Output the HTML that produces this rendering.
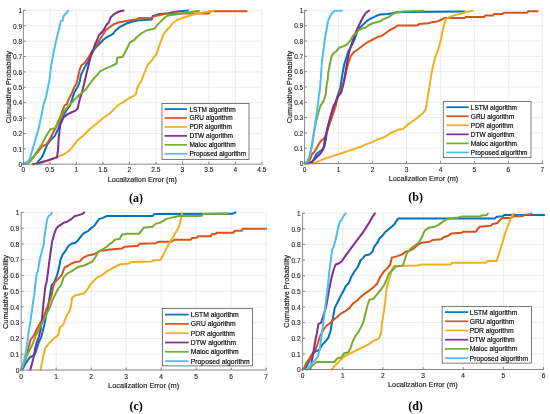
<!DOCTYPE html><html><head><meta charset="utf-8"><style>
html,body{margin:0;padding:0;background:#fff;}
svg{display:block;filter:blur(0.35px);}
text{font-family:"Liberation Sans",sans-serif;}
.t{font-size:6.6px;fill:#1e1e1e;stroke:#1e1e1e;stroke-width:0.12px;}
.l{font-size:7.4px;fill:#1e1e1e;stroke:#1e1e1e;stroke-width:0.18px;}
.g{font-size:7.2px;fill:#000;stroke:#000;stroke-width:0.15px;}
.cap{font-family:"Liberation Serif",serif;font-size:12px;font-weight:bold;fill:#000;}
</style></head><body>
<svg width="550" height="414" viewBox="0 0 550 414">
<rect width="550" height="414" fill="#fff"/>
<g stroke="#e8e8e8" stroke-width="0.8"><line x1="49.90" y1="10.40" x2="49.90" y2="164.20"/><line x1="76.40" y1="10.40" x2="76.40" y2="164.20"/><line x1="102.90" y1="10.40" x2="102.90" y2="164.20"/><line x1="129.40" y1="10.40" x2="129.40" y2="164.20"/><line x1="155.90" y1="10.40" x2="155.90" y2="164.20"/><line x1="182.40" y1="10.40" x2="182.40" y2="164.20"/><line x1="208.90" y1="10.40" x2="208.90" y2="164.20"/><line x1="235.40" y1="10.40" x2="235.40" y2="164.20"/><line x1="261.90" y1="10.40" x2="261.90" y2="164.20"/><line x1="23.40" y1="148.82" x2="261.90" y2="148.82"/><line x1="23.40" y1="133.44" x2="261.90" y2="133.44"/><line x1="23.40" y1="118.06" x2="261.90" y2="118.06"/><line x1="23.40" y1="102.68" x2="261.90" y2="102.68"/><line x1="23.40" y1="87.30" x2="261.90" y2="87.30"/><line x1="23.40" y1="71.92" x2="261.90" y2="71.92"/><line x1="23.40" y1="56.54" x2="261.90" y2="56.54"/><line x1="23.40" y1="41.16" x2="261.90" y2="41.16"/><line x1="23.40" y1="25.78" x2="261.90" y2="25.78"/><line x1="23.40" y1="10.40" x2="261.90" y2="10.40"/></g>
<polyline points="33.5,164.2 37.0,163.5 38.5,160.9 40.7,158.7 42.8,155.4 45.0,150.0 47.2,144.6 50.4,140.2 54.8,135.9 58.0,129.3 60.2,122.8 63.5,115.2 66.7,109.8 70.0,105.4 72.2,98.9 74.3,92.4 77.6,87.0 79.8,81.5 80.9,75.0 82.7,71.4 85.5,65.9 88.2,61.4 90.9,55.9 93.6,50.5 96.4,46.8 100.0,43.2 103.6,39.5 107.3,36.8 112.7,34.1 115.5,30.5 120.0,26.8 123.6,25.0 127.3,23.2 131.8,21.7 137.3,20.5 151.8,19.5 152.7,15.9 159.0,14.1 168.2,13.2 173.6,11.9 180.0,11.2 188.0,10.6" fill="none" stroke="#0072BD" stroke-width="2.0" stroke-linejoin="round" stroke-linecap="round"/>
<polyline points="23.4,164.2 26.0,162.8 28.7,161.0 32.0,158.5 35.2,155.0 38.5,151.1 41.7,146.7 46.1,144.6 49.3,140.2 52.6,133.7 55.9,127.2 58.0,121.7 60.2,117.4 62.4,110.9 64.6,105.4 66.7,104.3 68.9,98.9 72.2,92.4 74.3,87.0 76.5,83.7 77.5,79.0 78.2,75.9 80.0,68.6 81.8,65.0 84.5,63.2 88.2,57.7 90.9,53.2 93.6,49.5 96.4,45.9 98.2,42.3 100.0,39.5 102.7,35.0 105.5,30.5 110.0,26.8 114.0,24.1 119.1,22.3 126.4,21.0 136.4,19.2 139.0,18.1 151.8,17.7 155.5,15.9 164.5,14.1 170.0,13.4 209.0,13.4 209.4,11.2 246.5,11.2" fill="none" stroke="#D95319" stroke-width="2.0" stroke-linejoin="round" stroke-linecap="round"/>
<polyline points="33.0,164.2 37.4,163.7 43.9,162.0 50.4,159.8 54.8,157.6 61.3,155.4 65.7,153.3 70.0,150.0 74.3,144.6 77.6,140.2 83.0,135.9 89.6,129.3 96.1,123.9 102.6,118.5 106.0,116.0 110.0,113.3 114.3,108.9 118.7,104.6 123.0,102.4 126.3,100.2 129.6,98.0 133.9,95.9 136.1,93.7 137.2,88.3 139.3,83.9 141.5,80.7 142.6,77.4 144.8,72.0 146.5,67.6 148.0,64.3 151.3,61.1 153.6,57.7 156.4,54.1 158.2,48.6 160.9,41.4 163.6,34.1 166.4,30.5 170.0,26.8 172.7,23.2 176.4,20.5 180.9,18.6 186.4,16.8 191.8,15.0 199.0,13.2 204.5,12.3 210.0,11.4 214.0,10.7" fill="none" stroke="#EDB120" stroke-width="2.0" stroke-linejoin="round" stroke-linecap="round"/>
<polyline points="33.0,164.2 37.4,163.5 41.7,162.0 46.1,160.9 52.6,158.7 57.0,157.6 58.0,150.0 58.7,138.0 60.2,125.0 63.5,117.4 67.8,114.1 72.2,112.0 75.4,110.9 77.6,108.7 79.8,98.9 82.0,92.4 84.1,83.7 86.4,74.0 88.2,66.8 90.0,59.5 91.8,52.3 93.6,48.6 95.5,43.2 97.3,39.5 99.0,35.0 101.8,32.3 104.5,28.6 106.4,25.0 109.0,22.3 110.5,17.5 114.0,14.2 119.0,11.5 123.6,10.6" fill="none" stroke="#7E2F8E" stroke-width="2.0" stroke-linejoin="round" stroke-linecap="round"/>
<polyline points="23.4,164.2 26.5,163.5 29.8,162.0 33.0,157.6 37.4,151.1 41.7,144.6 45.0,138.0 48.3,132.6 50.4,129.3 54.8,128.3 59.1,121.7 63.5,112.0 67.8,106.5 72.2,102.2 76.5,97.8 80.9,93.5 85.2,90.2 90.7,82.6 93.9,78.3 97.2,75.0 100.0,71.4 105.5,68.6 110.9,66.3 113.6,65.0 116.5,63.5 117.3,57.7 122.7,56.8 124.5,53.2 127.3,47.7 130.0,42.3 133.6,40.5 137.3,36.8 141.8,33.2 146.4,30.5 154.5,28.6 157.3,25.0 160.9,21.4 164.5,17.7 168.2,15.5 175.5,14.5 182.7,13.2 190.0,12.3 199.0,10.8" fill="none" stroke="#77AC30" stroke-width="2.0" stroke-linejoin="round" stroke-linecap="round"/>
<polyline points="23.4,164.2 27.6,162.0 29.8,158.7 32.0,151.1 35.2,140.2 38.5,129.3 41.7,114.1 43.9,103.3 46.1,96.7 48.3,85.9 49.6,79.0 51.3,65.0 53.6,52.3 56.0,41.4 58.2,32.3 59.6,26.8 60.9,21.0 62.7,20.5 63.6,15.9 65.5,14.1 68.2,10.8" fill="none" stroke="#4DBEEE" stroke-width="2.0" stroke-linejoin="round" stroke-linecap="round"/>
<g stroke="#7a7a7a" stroke-width="0.9"><line x1="23.40" y1="9.90" x2="23.40" y2="164.20"/><line x1="23.40" y1="164.20" x2="262.40" y2="164.20"/><line x1="23.40" y1="164.20" x2="23.40" y2="161.80"/><line x1="49.90" y1="164.20" x2="49.90" y2="161.80"/><line x1="76.40" y1="164.20" x2="76.40" y2="161.80"/><line x1="102.90" y1="164.20" x2="102.90" y2="161.80"/><line x1="129.40" y1="164.20" x2="129.40" y2="161.80"/><line x1="155.90" y1="164.20" x2="155.90" y2="161.80"/><line x1="182.40" y1="164.20" x2="182.40" y2="161.80"/><line x1="208.90" y1="164.20" x2="208.90" y2="161.80"/><line x1="235.40" y1="164.20" x2="235.40" y2="161.80"/><line x1="261.90" y1="164.20" x2="261.90" y2="161.80"/><line x1="23.40" y1="164.20" x2="25.80" y2="164.20"/><line x1="23.40" y1="148.82" x2="25.80" y2="148.82"/><line x1="23.40" y1="133.44" x2="25.80" y2="133.44"/><line x1="23.40" y1="118.06" x2="25.80" y2="118.06"/><line x1="23.40" y1="102.68" x2="25.80" y2="102.68"/><line x1="23.40" y1="87.30" x2="25.80" y2="87.30"/><line x1="23.40" y1="71.92" x2="25.80" y2="71.92"/><line x1="23.40" y1="56.54" x2="25.80" y2="56.54"/><line x1="23.40" y1="41.16" x2="25.80" y2="41.16"/><line x1="23.40" y1="25.78" x2="25.80" y2="25.78"/><line x1="23.40" y1="10.40" x2="25.80" y2="10.40"/></g>
<g class="t"><text x="23.40" y="172.20" text-anchor="middle">0</text><text x="49.90" y="172.20" text-anchor="middle">0.5</text><text x="76.40" y="172.20" text-anchor="middle">1</text><text x="102.90" y="172.20" text-anchor="middle">1.5</text><text x="129.40" y="172.20" text-anchor="middle">2</text><text x="155.90" y="172.20" text-anchor="middle">2.5</text><text x="182.40" y="172.20" text-anchor="middle">3</text><text x="208.90" y="172.20" text-anchor="middle">3.5</text><text x="235.40" y="172.20" text-anchor="middle">4</text><text x="261.90" y="172.20" text-anchor="middle">4.5</text><text x="22.10" y="166.95" text-anchor="end">0</text><text x="22.10" y="151.57" text-anchor="end">0.1</text><text x="22.10" y="136.19" text-anchor="end">0.2</text><text x="22.10" y="120.81" text-anchor="end">0.3</text><text x="22.10" y="105.43" text-anchor="end">0.4</text><text x="22.10" y="90.05" text-anchor="end">0.5</text><text x="22.10" y="74.67" text-anchor="end">0.6</text><text x="22.10" y="59.29" text-anchor="end">0.7</text><text x="22.10" y="43.91" text-anchor="end">0.8</text><text x="22.10" y="28.53" text-anchor="end">0.9</text><text x="22.10" y="13.15" text-anchor="end">1</text></g>
<text class="l" style="font-size:7.25px" x="142.30" y="181.65" text-anchor="middle">Localization Error (m)</text>
<text class="l" style="font-size:7.25px" transform="translate(11.40,87.30) rotate(-90)" text-anchor="middle">Cumulative Probability</text>
<rect x="162.00" y="103.40" width="87.00" height="56.00" fill="#fff" stroke="#262626" stroke-width="0.6"/>
<line x1="164.60" y1="109.10" x2="187.00" y2="109.10" stroke="#0072BD" stroke-width="1.7"/>
<text class="g" style="font-size:6.55px" x="189.40" y="111.50">LSTM algorithm</text>
<line x1="164.60" y1="118.03" x2="187.00" y2="118.03" stroke="#D95319" stroke-width="1.7"/>
<text class="g" style="font-size:6.55px" x="189.40" y="120.43">GRU algorithm</text>
<line x1="164.60" y1="126.96" x2="187.00" y2="126.96" stroke="#EDB120" stroke-width="1.7"/>
<text class="g" style="font-size:6.55px" x="189.40" y="129.36">PDR algorithm</text>
<line x1="164.60" y1="135.89" x2="187.00" y2="135.89" stroke="#7E2F8E" stroke-width="1.7"/>
<text class="g" style="font-size:6.55px" x="189.40" y="138.29">DTW algorithm</text>
<line x1="164.60" y1="144.82" x2="187.00" y2="144.82" stroke="#77AC30" stroke-width="1.7"/>
<text class="g" style="font-size:6.55px" x="189.40" y="147.22">Maloc algorithm</text>
<line x1="164.60" y1="153.75" x2="187.00" y2="153.75" stroke="#4DBEEE" stroke-width="1.7"/>
<text class="g" style="font-size:6.55px" x="189.40" y="156.15">Proposed algorithm</text>
<text class="cap" x="136.00" y="201.90" text-anchor="middle">(a)</text>
<g stroke="#e8e8e8" stroke-width="0.8"><line x1="338.57" y1="10.40" x2="338.57" y2="163.50"/><line x1="372.54" y1="10.40" x2="372.54" y2="163.50"/><line x1="406.51" y1="10.40" x2="406.51" y2="163.50"/><line x1="440.48" y1="10.40" x2="440.48" y2="163.50"/><line x1="474.45" y1="10.40" x2="474.45" y2="163.50"/><line x1="508.42" y1="10.40" x2="508.42" y2="163.50"/><line x1="542.39" y1="10.40" x2="542.39" y2="163.50"/><line x1="304.60" y1="148.19" x2="542.39" y2="148.19"/><line x1="304.60" y1="132.88" x2="542.39" y2="132.88"/><line x1="304.60" y1="117.57" x2="542.39" y2="117.57"/><line x1="304.60" y1="102.26" x2="542.39" y2="102.26"/><line x1="304.60" y1="86.95" x2="542.39" y2="86.95"/><line x1="304.60" y1="71.64" x2="542.39" y2="71.64"/><line x1="304.60" y1="56.33" x2="542.39" y2="56.33"/><line x1="304.60" y1="41.02" x2="542.39" y2="41.02"/><line x1="304.60" y1="25.71" x2="542.39" y2="25.71"/><line x1="304.60" y1="10.40" x2="542.39" y2="10.40"/></g>
<polyline points="306.0,163.5 308.7,163.0 312.0,162.0 314.1,158.7 316.3,154.3 318.5,152.2 321.7,150.0 324.3,146.7 326.1,138.0 327.2,129.3 329.3,121.7 331.5,114.1 333.7,107.6 335.9,101.1 338.0,94.6 340.2,88.0 341.5,80.0 342.7,72.3 344.5,63.2 346.4,57.7 348.2,51.4 350.0,48.6 352.7,43.2 354.5,39.5 356.4,34.1 358.2,28.6 360.9,26.8 363.6,24.1 366.4,21.4 369.1,19.5 372.7,17.7 376.4,15.9 380.0,14.5 387.3,14.1 392.7,13.2 396.4,12.3 408.2,11.9 464.5,11.4" fill="none" stroke="#0072BD" stroke-width="2.0" stroke-linejoin="round" stroke-linecap="round"/>
<polyline points="305.5,163.5 307.6,163.0 309.8,159.8 312.0,154.3 314.1,152.2 316.3,148.9 318.5,144.6 320.7,141.3 322.8,139.1 325.0,138.0 327.2,131.5 329.3,125.0 331.5,118.5 333.7,112.0 335.9,105.4 337.0,98.9 339.1,94.6 342.4,85.9 344.5,79.9 346.4,70.5 348.2,63.2 350.9,55.9 353.6,52.3 356.4,50.5 360.0,47.7 363.6,45.0 367.3,42.3 370.9,40.5 374.5,38.6 378.2,36.8 381.8,35.9 385.5,33.2 389.1,30.5 392.7,28.6 396.4,26.5 397.5,25.4 417.3,25.4 419.1,24.1 428.2,23.2 431.8,22.3 437.3,21.4 441.8,19.5 444.5,18.1 464.5,18.1 466.0,16.9 484.5,16.9 485.0,15.6 493.3,15.6 494.0,13.9 502.7,13.9 503.5,12.8 527.5,12.8 528.0,11.3 537.6,11.3" fill="none" stroke="#D95319" stroke-width="2.0" stroke-linejoin="round" stroke-linecap="round"/>
<polyline points="313.0,163.5 317.4,162.0 321.7,159.8 328.3,157.6 334.8,155.4 341.3,153.3 347.8,151.1 354.3,148.9 360.9,146.7 365.2,144.6 371.7,142.4 378.3,139.1 384.8,137.0 390.0,133.5 394.3,131.3 398.7,129.6 403.0,129.1 405.2,127.0 408.5,124.1 411.7,122.0 416.1,118.7 420.4,115.4 423.7,112.2 425.9,108.9 427.0,101.3 428.0,94.8 429.6,86.1 430.9,77.4 432.4,68.7 434.6,60.0 435.1,57.7 437.3,52.3 439.1,46.8 440.9,39.5 442.7,30.5 444.5,23.2 446.4,18.6 450.0,16.8 455.5,15.0 462.7,13.2 466.4,11.9 472.7,10.8" fill="none" stroke="#EDB120" stroke-width="2.0" stroke-linejoin="round" stroke-linecap="round"/>
<polyline points="308.0,163.5 310.9,163.0 314.1,159.8 317.4,156.5 320.7,153.3 323.5,148.9 325.0,138.0 327.2,129.3 329.3,120.7 331.5,113.0 333.7,105.4 335.9,102.2 338.0,96.7 341.3,92.4 343.5,83.7 345.5,72.0 347.3,61.4 349.1,52.3 351.8,43.2 354.5,35.9 357.3,28.6 360.0,23.2 362.7,17.7 365.5,13.2 369.1,10.5" fill="none" stroke="#7E2F8E" stroke-width="2.0" stroke-linejoin="round" stroke-linecap="round"/>
<polyline points="304.6,163.5 307.6,162.0 309.8,155.4 312.0,144.6 314.1,131.5 316.3,120.7 318.5,112.0 320.7,105.4 323.5,101.1 325.7,94.6 326.5,85.9 327.8,79.3 328.2,73.2 330.0,63.2 331.8,55.9 333.6,53.2 336.4,51.4 339.1,47.7 342.7,46.5 346.4,45.0 348.2,43.2 350.9,39.5 353.6,35.0 356.4,33.2 358.2,30.5 361.8,28.6 365.5,27.7 369.1,25.0 372.7,23.2 376.4,22.3 380.0,21.4 383.6,19.2 389.1,16.8 392.7,14.1 397.3,12.3 404.5,11.4 423.6,10.8" fill="none" stroke="#77AC30" stroke-width="2.0" stroke-linejoin="round" stroke-linecap="round"/>
<polyline points="304.6,163.5 307.6,160.9 309.8,155.4 312.0,146.7 313.5,135.9 315.2,122.8 317.0,112.0 318.5,98.9 320.0,88.0 320.9,77.0 321.8,63.2 322.7,55.9 323.6,48.6 324.5,41.4 325.5,35.9 326.4,30.5 327.3,25.0 328.2,20.5 330.0,16.8 331.8,13.2 334.5,10.8 341.8,10.8" fill="none" stroke="#4DBEEE" stroke-width="2.0" stroke-linejoin="round" stroke-linecap="round"/>
<g stroke="#7a7a7a" stroke-width="0.9"><line x1="304.60" y1="9.90" x2="304.60" y2="163.50"/><line x1="304.60" y1="163.50" x2="542.89" y2="163.50"/><line x1="304.60" y1="163.50" x2="304.60" y2="161.10"/><line x1="338.57" y1="163.50" x2="338.57" y2="161.10"/><line x1="372.54" y1="163.50" x2="372.54" y2="161.10"/><line x1="406.51" y1="163.50" x2="406.51" y2="161.10"/><line x1="440.48" y1="163.50" x2="440.48" y2="161.10"/><line x1="474.45" y1="163.50" x2="474.45" y2="161.10"/><line x1="508.42" y1="163.50" x2="508.42" y2="161.10"/><line x1="542.39" y1="163.50" x2="542.39" y2="161.10"/><line x1="304.60" y1="163.50" x2="307.00" y2="163.50"/><line x1="304.60" y1="148.19" x2="307.00" y2="148.19"/><line x1="304.60" y1="132.88" x2="307.00" y2="132.88"/><line x1="304.60" y1="117.57" x2="307.00" y2="117.57"/><line x1="304.60" y1="102.26" x2="307.00" y2="102.26"/><line x1="304.60" y1="86.95" x2="307.00" y2="86.95"/><line x1="304.60" y1="71.64" x2="307.00" y2="71.64"/><line x1="304.60" y1="56.33" x2="307.00" y2="56.33"/><line x1="304.60" y1="41.02" x2="307.00" y2="41.02"/><line x1="304.60" y1="25.71" x2="307.00" y2="25.71"/><line x1="304.60" y1="10.40" x2="307.00" y2="10.40"/></g>
<g class="t"><text x="304.60" y="171.50" text-anchor="middle">0</text><text x="338.57" y="171.50" text-anchor="middle">1</text><text x="372.54" y="171.50" text-anchor="middle">2</text><text x="406.51" y="171.50" text-anchor="middle">3</text><text x="440.48" y="171.50" text-anchor="middle">4</text><text x="474.45" y="171.50" text-anchor="middle">5</text><text x="508.42" y="171.50" text-anchor="middle">6</text><text x="542.39" y="171.50" text-anchor="middle">7</text><text x="303.30" y="166.25" text-anchor="end">0</text><text x="303.30" y="150.94" text-anchor="end">0.1</text><text x="303.30" y="135.63" text-anchor="end">0.2</text><text x="303.30" y="120.32" text-anchor="end">0.3</text><text x="303.30" y="105.01" text-anchor="end">0.4</text><text x="303.30" y="89.70" text-anchor="end">0.5</text><text x="303.30" y="74.39" text-anchor="end">0.6</text><text x="303.30" y="59.08" text-anchor="end">0.7</text><text x="303.30" y="43.77" text-anchor="end">0.8</text><text x="303.30" y="28.46" text-anchor="end">0.9</text><text x="303.30" y="13.15" text-anchor="end">1</text></g>
<text class="l" style="font-size:7.28px" x="423.40" y="180.65" text-anchor="middle">Localization Error (m)</text>
<text class="l" style="font-size:7.28px" transform="translate(291.70,87.10) rotate(-90)" text-anchor="middle">Cumulative Probability</text>
<rect x="443.20" y="101.70" width="87.80" height="56.00" fill="#fff" stroke="#262626" stroke-width="0.6"/>
<line x1="446.30" y1="107.20" x2="468.70" y2="107.20" stroke="#0072BD" stroke-width="1.7"/>
<text class="g" style="font-size:6.55px" x="470.80" y="109.60">LSTM algorithm</text>
<line x1="446.30" y1="116.25" x2="468.70" y2="116.25" stroke="#D95319" stroke-width="1.7"/>
<text class="g" style="font-size:6.55px" x="470.80" y="118.65">GRU algorithm</text>
<line x1="446.30" y1="125.30" x2="468.70" y2="125.30" stroke="#EDB120" stroke-width="1.7"/>
<text class="g" style="font-size:6.55px" x="470.80" y="127.70">PDR algorithm</text>
<line x1="446.30" y1="134.35" x2="468.70" y2="134.35" stroke="#7E2F8E" stroke-width="1.7"/>
<text class="g" style="font-size:6.55px" x="470.80" y="136.75">DTW algorithm</text>
<line x1="446.30" y1="143.40" x2="468.70" y2="143.40" stroke="#77AC30" stroke-width="1.7"/>
<text class="g" style="font-size:6.55px" x="470.80" y="145.80">Maloc algorithm</text>
<line x1="446.30" y1="152.45" x2="468.70" y2="152.45" stroke="#4DBEEE" stroke-width="1.7"/>
<text class="g" style="font-size:6.55px" x="470.80" y="154.85">Proposed algorithm</text>
<text class="cap" x="415.60" y="201.30" text-anchor="middle">(b)</text>
<g stroke="#e8e8e8" stroke-width="0.8"><line x1="56.20" y1="212.40" x2="56.20" y2="370.00"/><line x1="91.20" y1="212.40" x2="91.20" y2="370.00"/><line x1="126.20" y1="212.40" x2="126.20" y2="370.00"/><line x1="161.20" y1="212.40" x2="161.20" y2="370.00"/><line x1="196.20" y1="212.40" x2="196.20" y2="370.00"/><line x1="231.20" y1="212.40" x2="231.20" y2="370.00"/><line x1="266.20" y1="212.40" x2="266.20" y2="370.00"/><line x1="21.20" y1="354.24" x2="266.20" y2="354.24"/><line x1="21.20" y1="338.48" x2="266.20" y2="338.48"/><line x1="21.20" y1="322.72" x2="266.20" y2="322.72"/><line x1="21.20" y1="306.96" x2="266.20" y2="306.96"/><line x1="21.20" y1="291.20" x2="266.20" y2="291.20"/><line x1="21.20" y1="275.44" x2="266.20" y2="275.44"/><line x1="21.20" y1="259.68" x2="266.20" y2="259.68"/><line x1="21.20" y1="243.92" x2="266.20" y2="243.92"/><line x1="21.20" y1="228.16" x2="266.20" y2="228.16"/><line x1="21.20" y1="212.40" x2="266.20" y2="212.40"/></g>
<polyline points="21.2,370.0 23.3,368.1 25.4,363.8 27.5,360.7 29.6,357.5 31.7,356.5 34.8,354.4 36.9,348.1 39.0,341.8 41.1,337.6 42.8,331.3 44.3,325.0 45.8,316.5 47.4,310.2 48.5,303.9 49.5,297.6 50.6,291.3 51.6,285.0 53.7,283.3 56.7,276.4 58.6,269.5 60.6,259.5 62.6,254.6 65.6,250.6 68.6,245.7 71.5,243.7 75.5,242.7 78.5,239.7 81.4,235.8 84.4,232.8 88.4,230.8 91.4,227.8 94.3,225.8 96.3,222.9 99.3,218.9 103.0,217.9 106.9,215.9 152.5,215.9 154.5,214.0 232.5,213.8 235.5,212.4" fill="none" stroke="#0072BD" stroke-width="2.0" stroke-linejoin="round" stroke-linecap="round"/>
<polyline points="21.2,370.0 22.2,369.1 24.3,362.8 26.4,356.5 28.5,348.1 30.6,339.7 33.8,335.5 36.9,329.2 39.0,325.0 43.2,318.6 45.3,312.3 48.5,303.9 51.6,295.5 53.2,287.0 54.7,282.3 57.7,279.4 61.6,275.4 64.6,267.5 68.6,265.5 71.5,263.5 75.5,261.9 79.5,261.5 83.4,257.6 87.4,255.6 93.3,254.6 97.3,252.6 101.3,250.6 104.0,250.6 109.9,249.6 121.8,248.6 124.8,246.7 137.7,245.7 139.7,243.7 155.5,243.3 158.5,241.7 171.4,241.7 174.3,239.7 190.9,239.7 191.9,238.1 196.9,237.7 197.8,236.2 210.7,236.2 211.7,234.2 215.7,233.8 216.7,232.8 233.5,232.8 234.5,230.8 241.5,230.8 243.0,228.8 266.2,228.8" fill="none" stroke="#D95319" stroke-width="2.0" stroke-linejoin="round" stroke-linecap="round"/>
<polyline points="40.7,370.0 41.5,364.9 43.2,356.5 45.3,348.1 48.5,343.9 51.6,340.7 54.8,337.6 58.0,335.5 60.1,327.1 63.2,325.0 65.3,318.6 67.4,314.4 69.5,311.3 71.0,306.0 72.2,297.6 74.8,295.5 79.0,294.5 84.2,293.4 87.4,289.2 90.0,285.2 93.3,281.4 97.3,277.4 100.0,276.4 103.0,274.4 106.9,271.4 111.9,268.5 115.9,266.5 119.8,264.5 128.7,263.5 131.7,261.9 151.5,261.5 153.5,260.5 160.5,260.1 162.5,256.6 165.4,250.6 168.4,244.7 171.4,239.7 174.3,234.8 177.3,229.8 179.3,225.8 180.9,218.9 182.3,213.0" fill="none" stroke="#EDB120" stroke-width="2.0" stroke-linejoin="round" stroke-linecap="round"/>
<polyline points="30.2,370.0 31.7,364.9 33.8,356.5 35.2,348.1 36.9,341.8 39.0,336.5 40.7,329.2 42.2,316.5 43.2,306.0 44.3,295.5 45.3,287.0 46.7,281.4 48.1,271.4 49.3,261.5 50.7,251.6 52.1,241.7 53.7,235.8 55.7,229.8 57.7,226.8 60.6,224.9 63.6,222.9 67.6,221.5 71.5,218.9 74.5,216.3 79.5,214.9 82.4,213.9 84.0,212.4" fill="none" stroke="#7E2F8E" stroke-width="2.0" stroke-linejoin="round" stroke-linecap="round"/>
<polyline points="21.2,370.0 23.3,364.9 25.4,358.6 27.5,354.4 29.6,350.2 32.7,343.9 35.9,335.5 38.0,331.3 40.1,327.1 43.2,320.7 46.4,314.4 49.5,308.1 52.7,299.7 55.8,293.4 58.3,288.5 61.0,285.0 63.6,277.4 67.6,273.4 71.5,271.4 75.5,268.5 79.5,266.5 84.4,265.5 88.4,263.5 92.3,261.5 95.3,257.6 98.3,251.6 101.5,250.0 104.0,248.5 106.5,247.0 108.9,244.7 111.9,242.7 114.9,239.7 119.8,238.7 121.8,234.8 126.8,233.8 138.7,233.8 141.6,230.8 143.6,227.8 152.5,226.8 155.5,223.9 159.5,222.9 163.4,220.9 166.4,218.9 170.4,217.9 174.3,216.9 179.3,215.9 201.8,215.9 202.8,214.0 227.6,213.6" fill="none" stroke="#77AC30" stroke-width="2.0" stroke-linejoin="round" stroke-linecap="round"/>
<polyline points="21.2,370.0 22.2,367.0 23.9,360.7 25.4,354.4 26.8,346.0 28.5,333.4 30.2,322.8 31.7,312.3 33.1,301.8 34.4,293.4 35.2,285.0 35.8,281.4 36.8,273.4 37.8,271.4 38.8,265.5 39.8,259.5 41.4,253.6 42.8,247.7 43.8,243.7 44.4,237.7 45.4,229.8 46.4,223.9 47.3,218.9 48.7,215.9 50.7,214.9 51.7,212.6" fill="none" stroke="#4DBEEE" stroke-width="2.0" stroke-linejoin="round" stroke-linecap="round"/>
<g stroke="#7a7a7a" stroke-width="0.9"><line x1="21.20" y1="211.90" x2="21.20" y2="370.00"/><line x1="21.20" y1="370.00" x2="266.70" y2="370.00"/><line x1="21.20" y1="370.00" x2="21.20" y2="367.60"/><line x1="56.20" y1="370.00" x2="56.20" y2="367.60"/><line x1="91.20" y1="370.00" x2="91.20" y2="367.60"/><line x1="126.20" y1="370.00" x2="126.20" y2="367.60"/><line x1="161.20" y1="370.00" x2="161.20" y2="367.60"/><line x1="196.20" y1="370.00" x2="196.20" y2="367.60"/><line x1="231.20" y1="370.00" x2="231.20" y2="367.60"/><line x1="266.20" y1="370.00" x2="266.20" y2="367.60"/><line x1="21.20" y1="370.00" x2="23.60" y2="370.00"/><line x1="21.20" y1="354.24" x2="23.60" y2="354.24"/><line x1="21.20" y1="338.48" x2="23.60" y2="338.48"/><line x1="21.20" y1="322.72" x2="23.60" y2="322.72"/><line x1="21.20" y1="306.96" x2="23.60" y2="306.96"/><line x1="21.20" y1="291.20" x2="23.60" y2="291.20"/><line x1="21.20" y1="275.44" x2="23.60" y2="275.44"/><line x1="21.20" y1="259.68" x2="23.60" y2="259.68"/><line x1="21.20" y1="243.92" x2="23.60" y2="243.92"/><line x1="21.20" y1="228.16" x2="23.60" y2="228.16"/><line x1="21.20" y1="212.40" x2="23.60" y2="212.40"/></g>
<g class="t"><text x="21.20" y="378.50" text-anchor="middle">0</text><text x="56.20" y="378.50" text-anchor="middle">1</text><text x="91.20" y="378.50" text-anchor="middle">2</text><text x="126.20" y="378.50" text-anchor="middle">3</text><text x="161.20" y="378.50" text-anchor="middle">4</text><text x="196.20" y="378.50" text-anchor="middle">5</text><text x="231.20" y="378.50" text-anchor="middle">6</text><text x="266.20" y="378.50" text-anchor="middle">7</text><text x="19.30" y="372.75" text-anchor="end">0</text><text x="19.30" y="356.99" text-anchor="end">0.1</text><text x="19.30" y="341.23" text-anchor="end">0.2</text><text x="19.30" y="325.47" text-anchor="end">0.3</text><text x="19.30" y="309.71" text-anchor="end">0.4</text><text x="19.30" y="293.95" text-anchor="end">0.5</text><text x="19.30" y="278.19" text-anchor="end">0.6</text><text x="19.30" y="262.43" text-anchor="end">0.7</text><text x="19.30" y="246.67" text-anchor="end">0.8</text><text x="19.30" y="230.91" text-anchor="end">0.9</text><text x="19.30" y="215.15" text-anchor="end">1</text></g>
<text class="l" style="font-size:7.45px" x="143.60" y="388.45" text-anchor="middle">Localization Error (m)</text>
<text class="l" style="font-size:7.45px" transform="translate(8.20,292.00) rotate(-90)" text-anchor="middle">Cumulative Probability</text>
<rect x="162.50" y="308.40" width="89.90" height="57.50" fill="#fff" stroke="#262626" stroke-width="0.6"/>
<line x1="165.00" y1="314.60" x2="188.70" y2="314.60" stroke="#0072BD" stroke-width="1.7"/>
<text class="g" style="font-size:6.8px" x="190.80" y="317.00">LSTM algorithm</text>
<line x1="165.00" y1="323.90" x2="188.70" y2="323.90" stroke="#D95319" stroke-width="1.7"/>
<text class="g" style="font-size:6.8px" x="190.80" y="326.30">GRU algorithm</text>
<line x1="165.00" y1="333.20" x2="188.70" y2="333.20" stroke="#EDB120" stroke-width="1.7"/>
<text class="g" style="font-size:6.8px" x="190.80" y="335.60">PDR algorithm</text>
<line x1="165.00" y1="342.50" x2="188.70" y2="342.50" stroke="#7E2F8E" stroke-width="1.7"/>
<text class="g" style="font-size:6.8px" x="190.80" y="344.90">DTW algorithm</text>
<line x1="165.00" y1="351.80" x2="188.70" y2="351.80" stroke="#77AC30" stroke-width="1.7"/>
<text class="g" style="font-size:6.8px" x="190.80" y="354.20">Maloc algorithm</text>
<line x1="165.00" y1="361.10" x2="188.70" y2="361.10" stroke="#4DBEEE" stroke-width="1.7"/>
<text class="g" style="font-size:6.8px" x="190.80" y="363.50">Proposed algorithm</text>
<text class="cap" x="136.10" y="409.90" text-anchor="middle">(c)</text>
<g stroke="#e8e8e8" stroke-width="0.8"><line x1="342.75" y1="213.20" x2="342.75" y2="369.50"/><line x1="382.90" y1="213.20" x2="382.90" y2="369.50"/><line x1="423.05" y1="213.20" x2="423.05" y2="369.50"/><line x1="463.20" y1="213.20" x2="463.20" y2="369.50"/><line x1="503.35" y1="213.20" x2="503.35" y2="369.50"/><line x1="543.50" y1="213.20" x2="543.50" y2="369.50"/><line x1="302.60" y1="353.87" x2="543.50" y2="353.87"/><line x1="302.60" y1="338.24" x2="543.50" y2="338.24"/><line x1="302.60" y1="322.61" x2="543.50" y2="322.61"/><line x1="302.60" y1="306.98" x2="543.50" y2="306.98"/><line x1="302.60" y1="291.35" x2="543.50" y2="291.35"/><line x1="302.60" y1="275.72" x2="543.50" y2="275.72"/><line x1="302.60" y1="260.09" x2="543.50" y2="260.09"/><line x1="302.60" y1="244.46" x2="543.50" y2="244.46"/><line x1="302.60" y1="228.83" x2="543.50" y2="228.83"/><line x1="302.60" y1="213.20" x2="543.50" y2="213.20"/></g>
<polyline points="302.6,369.5 304.2,369.1 306.3,367.0 308.4,362.8 310.5,357.5 312.6,354.4 315.8,351.2 318.9,350.2 322.1,344.9 325.2,341.8 328.4,337.6 330.5,331.3 331.5,325.0 333.2,316.5 334.7,308.1 336.8,303.9 338.9,299.7 342.0,293.4 344.0,290.0 345.6,286.3 348.6,283.3 351.5,276.4 354.5,271.4 357.5,267.5 360.5,260.5 363.4,257.6 365.4,255.2 369.4,254.6 372.4,251.6 374.3,246.7 377.3,242.7 379.3,238.7 382.3,235.8 385.0,232.3 388.0,229.8 391.0,227.2 393.9,224.9 395.9,221.9 397.9,218.6 494.7,218.6 496.7,216.7 502.6,216.3 504.6,214.9 544.2,214.9" fill="none" stroke="#0072BD" stroke-width="2.0" stroke-linejoin="round" stroke-linecap="round"/>
<polyline points="302.6,369.5 304.2,368.1 306.3,362.8 309.5,358.6 312.6,353.3 315.8,349.1 317.9,342.8 320.0,336.5 323.1,330.2 326.3,326.0 330.5,322.8 333.6,319.7 337.8,316.5 341.0,313.4 345.2,311.3 349.4,308.1 352.6,303.9 356.8,300.8 361.0,296.6 365.2,293.4 369.4,290.5 373.6,287.1 377.0,284.0 380.0,277.4 384.0,271.4 387.5,268.0 390.0,265.0 391.9,257.6 395.9,256.6 398.9,255.6 402.8,254.0 405.8,251.6 409.8,250.6 413.7,248.6 417.7,244.7 421.7,242.7 429.6,241.7 432.6,240.1 441.5,239.3 443.5,237.3 448.4,235.8 451.4,233.4 461.3,232.8 463.0,231.8 475.9,231.8 477.8,228.8 479.8,226.8 490.7,225.8 492.7,223.9 497.7,222.9 499.6,220.3 502.6,217.9 511.5,217.9 513.5,216.3 522.4,216.3 524.4,214.9 530.4,214.3 531.4,213.5" fill="none" stroke="#D95319" stroke-width="2.0" stroke-linejoin="round" stroke-linecap="round"/>
<polyline points="331.5,369.5 334.7,366.0 337.8,362.8 341.0,359.6 344.2,356.5 348.4,354.4 352.6,352.3 356.8,350.2 361.0,348.1 365.2,346.0 369.4,343.9 373.6,340.7 378.8,338.6 381.0,333.4 382.0,322.8 384.1,310.2 385.8,297.6 386.5,290.0 387.5,285.0 389.5,278.0 391.0,273.0 392.9,267.5 394.0,266.0 418.7,265.5 420.7,264.5 450.4,264.5 452.4,262.8 485.8,262.8 487.8,261.1 496.7,261.1 499.6,251.6 502.6,241.7 505.6,231.8 508.6,223.9 511.5,216.9 513.9,213.5" fill="none" stroke="#EDB120" stroke-width="2.0" stroke-linejoin="round" stroke-linecap="round"/>
<polyline points="310.1,369.5 310.9,366.0 312.2,358.6 313.7,350.2 315.1,341.8 316.8,333.4 318.5,323.9 321.0,322.8 323.1,316.5 326.3,306.0 328.0,296.0 329.0,290.0 330.3,284.0 331.7,277.0 333.7,269.5 335.7,264.5 338.7,263.5 341.6,261.5 345.6,255.6 351.5,247.7 357.5,239.7 363.4,231.8 368.4,223.9 372.4,216.9 374.9,213.4" fill="none" stroke="#7E2F8E" stroke-width="2.0" stroke-linejoin="round" stroke-linecap="round"/>
<polyline points="306.0,369.5 308.4,369.1 311.6,366.0 314.7,363.8 316.8,361.9 334.7,361.9 336.8,358.6 341.0,357.5 344.2,353.3 348.4,352.3 350.5,348.1 352.6,341.8 355.7,335.5 358.9,331.3 361.0,327.1 363.1,322.8 365.2,314.4 367.3,306.0 369.4,299.7 373.6,298.7 377.8,293.4 381.0,289.5 384.1,285.0 385.5,282.3 387.0,278.4 389.0,273.4 392.9,269.5 395.9,266.5 402.8,265.5 404.8,259.5 406.8,253.6 409.8,249.6 412.8,246.7 415.7,244.7 418.7,242.7 421.7,237.7 423.7,232.8 425.6,229.8 428.6,227.8 434.6,226.8 438.5,224.9 442.5,221.9 445.5,219.9 450.4,218.3 458.4,217.5 461.3,216.6 479.8,216.6 481.8,215.5 486.8,214.9 487.8,213.5" fill="none" stroke="#77AC30" stroke-width="2.0" stroke-linejoin="round" stroke-linecap="round"/>
<polyline points="307.4,369.5 308.4,368.1 311.6,363.8 314.7,360.7 317.9,356.5 320.0,348.1 321.0,339.7 322.7,327.1 324.2,316.5 325.7,303.9 326.9,293.4 327.6,288.0 328.5,280.0 329.3,271.4 330.7,261.5 332.1,249.6 333.7,246.7 335.3,240.7 336.7,234.8 338.1,227.8 339.7,221.9 341.6,219.9 343.6,215.9 345.6,213.4" fill="none" stroke="#4DBEEE" stroke-width="2.0" stroke-linejoin="round" stroke-linecap="round"/>
<g stroke="#7a7a7a" stroke-width="0.9"><line x1="302.60" y1="212.70" x2="302.60" y2="369.50"/><line x1="302.60" y1="369.50" x2="544.00" y2="369.50"/><line x1="302.60" y1="369.50" x2="302.60" y2="367.10"/><line x1="342.75" y1="369.50" x2="342.75" y2="367.10"/><line x1="382.90" y1="369.50" x2="382.90" y2="367.10"/><line x1="423.05" y1="369.50" x2="423.05" y2="367.10"/><line x1="463.20" y1="369.50" x2="463.20" y2="367.10"/><line x1="503.35" y1="369.50" x2="503.35" y2="367.10"/><line x1="543.50" y1="369.50" x2="543.50" y2="367.10"/><line x1="302.60" y1="369.50" x2="305.00" y2="369.50"/><line x1="302.60" y1="353.87" x2="305.00" y2="353.87"/><line x1="302.60" y1="338.24" x2="305.00" y2="338.24"/><line x1="302.60" y1="322.61" x2="305.00" y2="322.61"/><line x1="302.60" y1="306.98" x2="305.00" y2="306.98"/><line x1="302.60" y1="291.35" x2="305.00" y2="291.35"/><line x1="302.60" y1="275.72" x2="305.00" y2="275.72"/><line x1="302.60" y1="260.09" x2="305.00" y2="260.09"/><line x1="302.60" y1="244.46" x2="305.00" y2="244.46"/><line x1="302.60" y1="228.83" x2="305.00" y2="228.83"/><line x1="302.60" y1="213.20" x2="305.00" y2="213.20"/></g>
<g class="t"><text x="302.60" y="377.50" text-anchor="middle">0</text><text x="342.75" y="377.50" text-anchor="middle">1</text><text x="382.90" y="377.50" text-anchor="middle">2</text><text x="423.05" y="377.50" text-anchor="middle">3</text><text x="463.20" y="377.50" text-anchor="middle">4</text><text x="503.35" y="377.50" text-anchor="middle">5</text><text x="543.50" y="377.50" text-anchor="middle">6</text><text x="300.60" y="372.25" text-anchor="end">0</text><text x="300.60" y="356.62" text-anchor="end">0.1</text><text x="300.60" y="340.99" text-anchor="end">0.2</text><text x="300.60" y="325.36" text-anchor="end">0.3</text><text x="300.60" y="309.73" text-anchor="end">0.4</text><text x="300.60" y="294.10" text-anchor="end">0.5</text><text x="300.60" y="278.47" text-anchor="end">0.6</text><text x="300.60" y="262.84" text-anchor="end">0.7</text><text x="300.60" y="247.21" text-anchor="end">0.8</text><text x="300.60" y="231.58" text-anchor="end">0.9</text><text x="300.60" y="215.95" text-anchor="end">1</text></g>
<text class="l" style="font-size:7.3px" x="422.90" y="386.65" text-anchor="middle">Localization Error (m)</text>
<text class="l" style="font-size:7.3px" transform="translate(289.20,291.40) rotate(-90)" text-anchor="middle">Cumulative Probability</text>
<rect x="442.10" y="306.30" width="89.30" height="56.80" fill="#fff" stroke="#262626" stroke-width="0.6"/>
<line x1="445.00" y1="312.10" x2="468.30" y2="312.10" stroke="#0072BD" stroke-width="1.7"/>
<text class="g" style="font-size:6.75px" x="469.70" y="314.50">LSTM algorithm</text>
<line x1="445.00" y1="321.30" x2="468.30" y2="321.30" stroke="#D95319" stroke-width="1.7"/>
<text class="g" style="font-size:6.75px" x="469.70" y="323.70">GRU algorithm</text>
<line x1="445.00" y1="330.50" x2="468.30" y2="330.50" stroke="#EDB120" stroke-width="1.7"/>
<text class="g" style="font-size:6.75px" x="469.70" y="332.90">PDR algorithm</text>
<line x1="445.00" y1="339.70" x2="468.30" y2="339.70" stroke="#7E2F8E" stroke-width="1.7"/>
<text class="g" style="font-size:6.75px" x="469.70" y="342.10">DTW algorithm</text>
<line x1="445.00" y1="348.90" x2="468.30" y2="348.90" stroke="#77AC30" stroke-width="1.7"/>
<text class="g" style="font-size:6.75px" x="469.70" y="351.30">Maloc algorithm</text>
<line x1="445.00" y1="358.10" x2="468.30" y2="358.10" stroke="#4DBEEE" stroke-width="1.7"/>
<text class="g" style="font-size:6.75px" x="469.70" y="360.50">Proposed algorithm</text>
<text class="cap" x="415.50" y="409.50" text-anchor="middle">(d)</text>
</svg></body></html>
